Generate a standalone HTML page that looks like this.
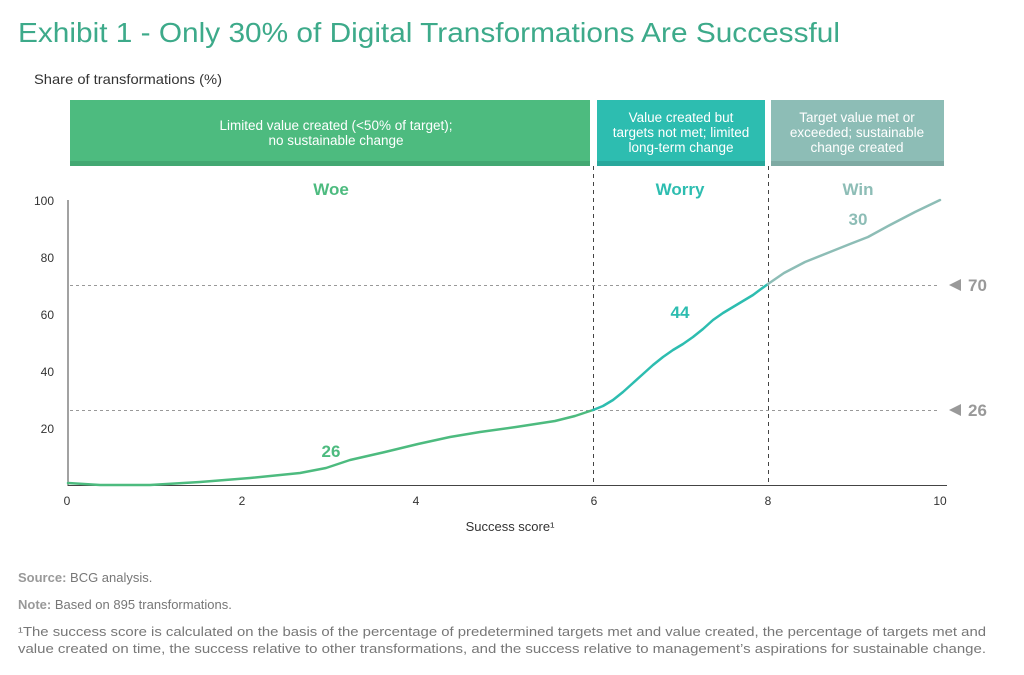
<!DOCTYPE html>
<html><head><meta charset="utf-8"><style>
body{margin:0;background:#fff;width:1024px;height:670px;overflow:hidden;font-family:"Liberation Sans",sans-serif}
</style></head><body>
<svg width="1024" height="670" viewBox="0 0 1024 670" xmlns="http://www.w3.org/2000/svg" font-family="Liberation Sans, sans-serif">
<text x="18" y="42" font-size="28" fill="#3daa8a" textLength="822" lengthAdjust="spacingAndGlyphs">Exhibit 1 - Only 30% of Digital Transformations Are Successful</text>
<text x="34" y="84" font-size="14" fill="#333" textLength="188" lengthAdjust="spacingAndGlyphs">Share of transformations (%)</text>
<rect x="70" y="100" width="520" height="66" fill="#4dbb7f"/><rect x="70" y="161" width="520" height="5" fill="#43a872"/>
<rect x="597" y="100" width="168" height="66" fill="#2dbdb0"/><rect x="597" y="161" width="168" height="5" fill="#28a89c"/>
<rect x="771" y="100" width="173" height="66" fill="#8dbdb6"/><rect x="771" y="161" width="173" height="5" fill="#7eaaa3"/>
<g font-size="13.5" fill="#fff" text-anchor="middle">
<text x="336" y="130">Limited value created (&lt;50% of target);</text>
<text x="336" y="145">no sustainable change</text>
<text x="681" y="122">Value created but</text>
<text x="681" y="137">targets not met; limited</text>
<text x="681" y="152">long-term change</text>
<text x="857" y="122">Target value met or</text>
<text x="857" y="137">exceeded; sustainable</text>
<text x="857" y="152">change created</text>
</g>
<g font-size="17" font-weight="bold" text-anchor="middle">
<text x="331" y="195" fill="#4dbb7f">Woe</text>
<text x="680" y="195" fill="#2dbdb0">Worry</text>
<text x="858" y="195" fill="#8dbdb6">Win</text>
<text x="331" y="457" fill="#4dbb7f">26</text>
<text x="680" y="318" fill="#2dbdb0">44</text>
<text x="858" y="225" fill="#8dbdb6">30</text>
</g>
<g stroke="#999" stroke-width="1" stroke-dasharray="3,3">
<line x1="70" y1="285.5" x2="940" y2="285.5"/>
<line x1="70" y1="410.5" x2="940" y2="410.5"/>
</g>
<g stroke="#444" stroke-width="1" stroke-dasharray="4,4">
<line x1="593.5" y1="166" x2="593.5" y2="485"/>
<line x1="768.5" y1="166" x2="768.5" y2="485"/>
</g>
<line x1="68" y1="200" x2="68" y2="486" stroke="#444"/>
<line x1="68" y1="485.5" x2="947" y2="485.5" stroke="#444"/>
<g font-size="12" fill="#333" text-anchor="end">
<text x="54" y="205">100</text><text x="54" y="262">80</text><text x="54" y="319">60</text><text x="54" y="376">40</text><text x="54" y="433">20</text>
</g>
<g font-size="12" fill="#333" text-anchor="middle">
<text x="67" y="505">0</text><text x="242" y="505">2</text><text x="416" y="505">4</text><text x="594" y="505">6</text><text x="768" y="505">8</text><text x="940" y="505">10</text>
<text x="510" y="531" font-size="13">Success score¹</text>
</g>
<g fill="none" stroke-width="2.5" stroke-linejoin="round" stroke-linecap="round">
<polyline stroke="#4dbb7f" points="68,483 100,485 150,485 200,482 250,478 300,473 326,468 350,460 385,452 418,444 450,437 480,432 516,427 555,421 575,416 593,410"/>
<polyline stroke="#2dbdb0" points="593,410 603,406 613,400 623,392 633,383 643,374 653,365 663,357 673,350 683,344 693,337 703,329 713,320 723,313 733,307 743,301 753,295 761,289 768,284"/>
<polyline stroke="#8dbdb6" points="768,284 784,273 805,262 830,252 850,244 868,237 890,225 915,212 940,200"/>
</g>
<g fill="#999">
<polygon points="949,285 961,279 961,291"/>
<polygon points="949,410 961,404 961,416"/>
<text x="968" y="291" font-size="17" font-weight="bold">70</text>
<text x="968" y="416" font-size="17" font-weight="bold">26</text>
</g>
<g font-size="13" fill="#777">
<text x="18" y="582"><tspan font-weight="bold" fill="#999">Source:</tspan> BCG analysis.</text>
<text x="18" y="609"><tspan font-weight="bold" fill="#999">Note:</tspan> Based on 895 transformations.</text>
<text x="18" y="636" textLength="968" lengthAdjust="spacingAndGlyphs">¹The success score is calculated on the basis of the percentage of predetermined targets met and value created, the percentage of targets met and</text>
<text x="18" y="653" textLength="968" lengthAdjust="spacingAndGlyphs">value created on time, the success relative to other transformations, and the success relative to management’s aspirations for sustainable change.</text>
</g>
</svg>
</body></html>
